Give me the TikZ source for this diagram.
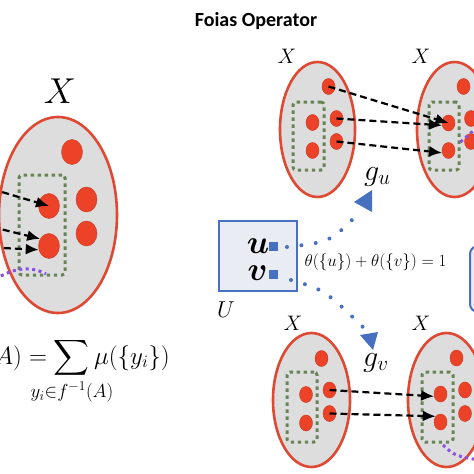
\RequirePackage{fix-cm}
\documentclass[tikz,border=0pt]{standalone}
\usepackage{amsmath}
\usepackage{mathtools}
\usepackage{bm}
\usepackage{fontspec}
\newfontfamily\headfont{Carlito}
\usetikzlibrary{arrows.meta,shapes.geometric}

\definecolor{setred}{RGB}{222,73,52}
\definecolor{setgray}{RGB}{221,221,221}
\definecolor{ptred}{RGB}{236,66,40}
\definecolor{grpgreen}{RGB}{104,132,86}
\definecolor{chainpurple}{RGB}{138,80,232}
\definecolor{ublue}{RGB}{72,112,192}
\definecolor{ufill}{RGB}{233,236,242}

\tikzset{
  set/.style={ellipse, draw=setred, line width=2.6pt, fill=setgray, inner sep=0pt},
  pt/.style={ellipse, draw=ptred!85!black, line width=0.4pt, fill=ptred, inner sep=0pt,
    minimum width=13pt, minimum height=16pt},
  bigpt/.style={pt, minimum width=21pt, minimum height=25pt},
  grp/.style={draw=grpgreen, line width=3pt, dash pattern=on 3.4pt off 3.6pt,
    rounded corners=3pt, inner sep=0pt},
  map/.style={line width=2.2pt, dash pattern=on 7pt off 4pt, -{Latex[length=13pt,width=11pt]}},
  chain/.style={chainpurple, line width=3pt, dash pattern=on 3pt off 3.5pt},
  pick/.style={ublue, line width=4pt, line cap=round, dash pattern=on 0pt off 14.5pt},
  ubox/.style={draw=ublue, line width=2pt, fill=ufill, inner sep=0pt},
  sq/.style={fill=ublue, inner sep=0pt, minimum size=9pt},
  bigX/.style={font=\fontsize{36}{40}\selectfont, inner sep=0pt, anchor=base},
  smallX/.style={font=\fontsize{21}{24}\selectfont, inner sep=0pt, anchor=base}
}

\begin{document}
\begin{tikzpicture}[x=1pt,y=-1pt]
  \useasboundingbox (0,0) rectangle (474,474);
  \clip (0,0) rectangle (474,474);

  \node[inner sep=0pt, anchor=base, font=\headfont\bfseries\fontsize{20}{22}\selectfont] (title) at (256,26) {Foias Operator};

  % left set
  \node[bigX] (X0) at (60,103) {$X$};
  \node[set, minimum width=118pt, minimum height=196pt] (S0) at (58,215) {};
  \node[grp, minimum width=46pt, minimum height=100pt] (G0) at (42,225) {};
  \node[bigpt] (L0) at (72,152) {};
  \node[bigpt] (L1) at (86.5,199.5) {};
  \node[bigpt] (L2) at (86.5,233.5) {};
  \node[bigpt] (L3) at (49,206) {};
  \node[bigpt] (L4) at (49,246) {};
  \coordinate (in1) at (-40,179.6);
  \coordinate (in2) at (-40,219);
  \coordinate (in3) at (-40,246);
  \draw[map] (in1) -- (L3.center);
  \draw[map] (in2) -- (L4.141);
  \draw[map] (in3) -- (L4.200);
  \draw[chain] (-10,283) .. controls (10,268) and (30,265) .. (46,274);

  \node[anchor=base east, inner sep=0pt, font=\fontsize{25}{30}\selectfont] (mu) at (170,364)
    {$\mu(A)=\displaystyle\sum_{\mathclap{\mbox{\fontsize{27}{28}\selectfont$\scriptstyle y_i\in f^{-1}(A)$}}}\mu(\{y_i\})$};

  % top pair
  \node[smallX] (XA) at (287,63) {$X$};
  \node[smallX] (XB) at (421,63) {$X$};
  \node[set, minimum width=75pt, minimum height=135pt] (SA) at (317.5,129.5) {};
  \node[set, minimum width=75pt, minimum height=135pt] (SB) at (454.5,129.5) {};
  \node[grp, minimum width=31pt, minimum height=68pt] (GA) at (308.5,136) {};
  \node[grp, minimum width=30pt, minimum height=68pt] (GB) at (444,136) {};
  \node[pt] (a0) at (328.5,86.5) {};
  \node[pt] (a1) at (312.5,122.5) {};
  \node[pt] (a2) at (312.5,150.5) {};
  \node[pt] (a3) at (336.5,118.5) {};
  \node[pt] (a4) at (336.5,141.5) {};
  \node[pt] (b0) at (463.5,86.5) {};
  \node[pt] (b1) at (448.5,123) {};
  \node[pt] (b2) at (448.5,150.5) {};
  \node[pt] (b3) at (471,118.5) {};
  \node[pt] (b4) at (471,141.5) {};
  \draw[map] (a0.center) -- (b1.center);
  \draw[map] (a3.center) -- (b1.200);
  \draw[map] (a4.center) -- (b2.200);
  \draw[chain] (GB.east |- 0,142) -- (490,116);

  % bottom pair
  \node[smallX] (XC) at (293,330) {$X$};
  \node[smallX] (XD) at (421,330) {$X$};
  \node[set, minimum width=77pt, minimum height=134pt] (SC) at (311.5,400) {};
  \node[set, minimum width=77pt, minimum height=134pt] (SD) at (446.5,400) {};
  \node[grp, minimum width=30pt, minimum height=70pt] (GC) at (302,407) {};
  \node[grp, minimum width=31pt, minimum height=70pt] (GD) at (437.5,407) {};
  \node[pt] (c0) at (321.5,358.5) {};
  \node[pt] (c1) at (306,394.5) {};
  \node[pt] (c2) at (306,423) {};
  \node[pt] (c3) at (329.5,390) {};
  \node[pt] (c4) at (329.5,413.5) {};
  \node[pt] (d0) at (456.5,358) {};
  \node[pt] (d1) at (440.5,394) {};
  \node[pt] (d2) at (440.5,422) {};
  \node[pt] (d3) at (465,390) {};
  \node[pt] (d4) at (465,413.5) {};
  \draw[map] (c3.center) -- (d1.200);
  \draw[map] (c4.center) -- (d2.130);
  \draw[chain] (443,445) .. controls (455,456) .. (485,461);

  % the box U
  \node[ubox, minimum width=78pt, minimum height=70pt] (U) at (258,256) {};
  \node[smallX, font=\fontsize{23}{26}\selectfont] (Ulab) at (226,317) {$U$};
  \node[sq] (us) at (273.5,246.5) {};
  \node[sq] (vs) at (273.5,274) {};
  \node[inner sep=0pt, anchor=base, font=\fontsize{33}{36}\selectfont] (u) at (258,253) {$\bm{u}$};
  \node[inner sep=0pt, anchor=base, font=\fontsize{33}{36}\selectfont] (v) at (257.5,280) {$\bm{v}$};
  \node[inner sep=0pt, font=\fontsize{17}{20}\selectfont] (theta) at (375.5,262) {$\theta(\{u\})+\theta(\{v\})=1$};
  \node[ubox, rounded corners=8pt, minimum width=50pt, minimum height=66pt] (V) at (495,279) {};

  \coordinate (pu) at (287,247);
  \coordinate (tu) at (357,215);
  \coordinate (pv) at (291,280);
  \coordinate (tv) at (368,332);
  \draw[pick] (pu) .. controls (330,242) .. (tu);
  \draw[pick] (pv) .. controls (325,290) .. (tv);
  \fill[ublue] (354,202) -- (372,190) -- (372,212) -- cycle;
  \fill[ublue] (360,335) -- (378,332) -- (373,350) -- cycle;
  \node[inner sep=0pt, anchor=base west, font=\fontsize{30}{34}\selectfont] (gu) at (364,180) {$g_u$};
  \node[inner sep=0pt, anchor=base west, font=\fontsize{30}{34}\selectfont] (gv) at (363,366) {$g_v$};
\end{tikzpicture}
\end{document}
